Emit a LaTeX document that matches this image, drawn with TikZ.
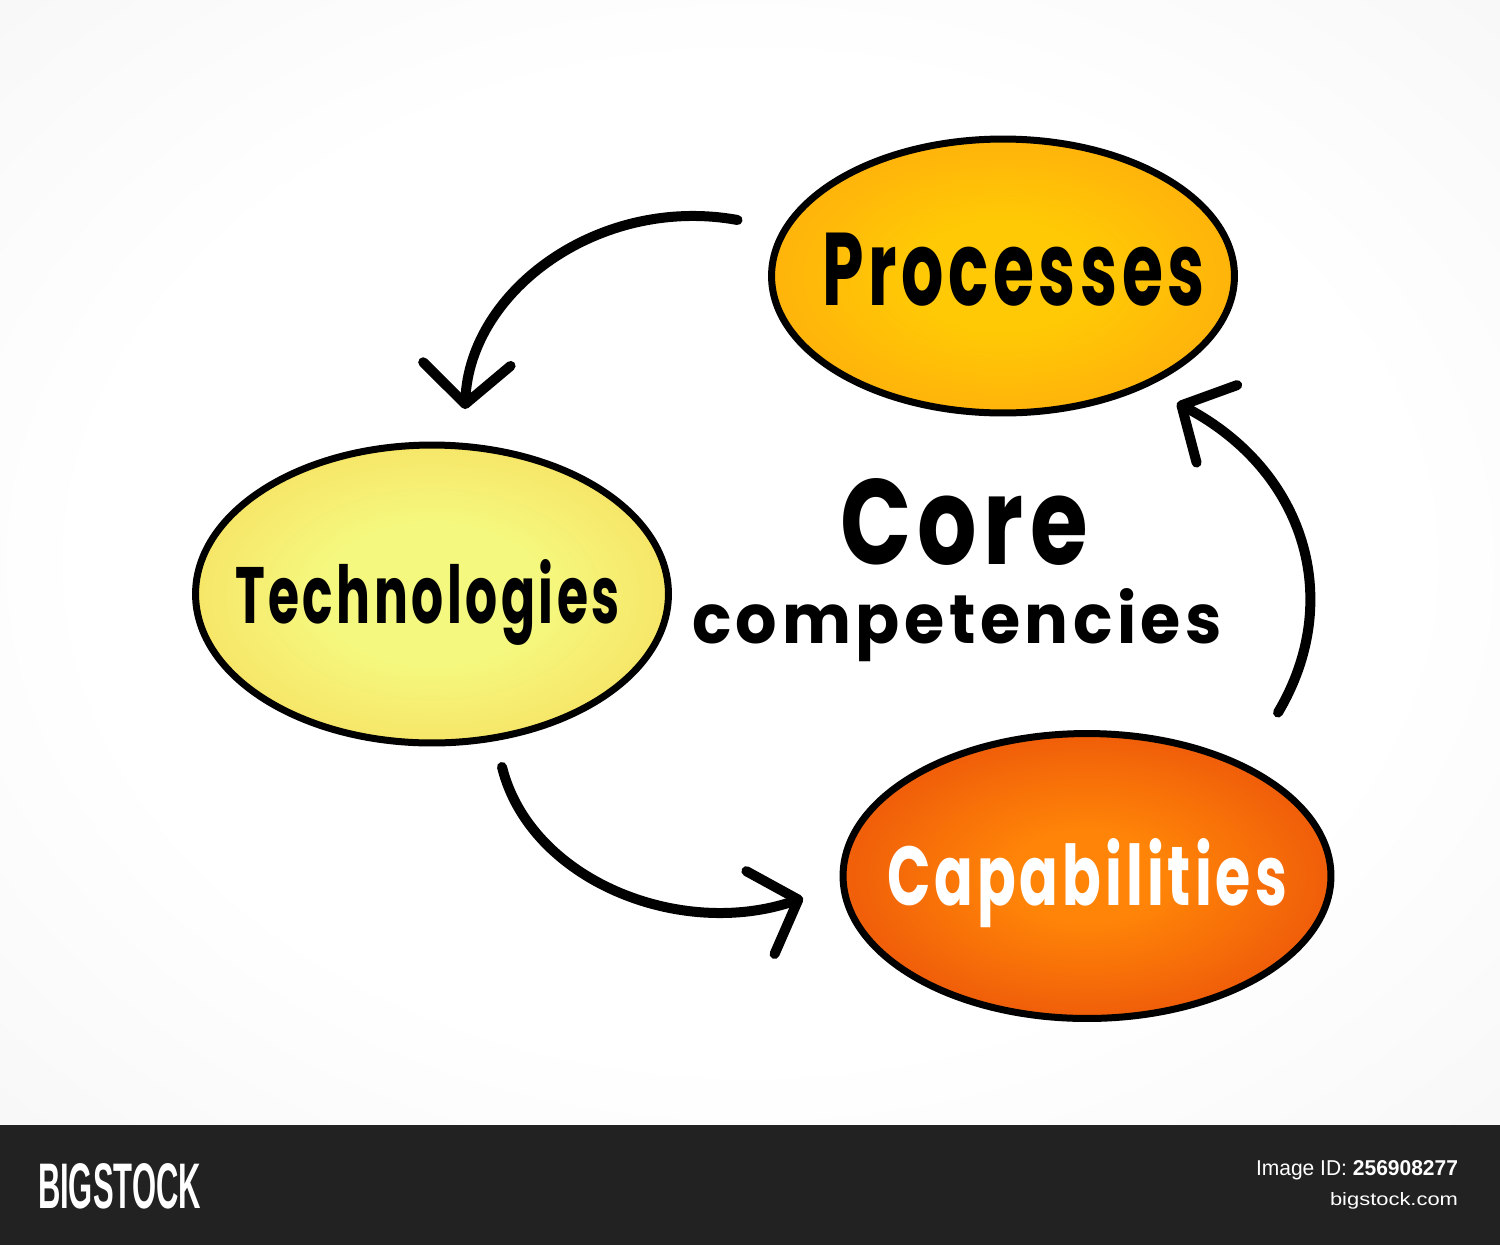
\documentclass[tikz,border=0pt]{standalone}
\usepackage{fontspec}
\usepackage{graphicx}
\setmainfont{Poppins}
\newfontfamily\bandfont{Liberation Sans}
\newfontfamily\handfont[LetterSpace=7]{Poppins}
\usetikzlibrary{shapes.geometric,arrows.meta,calc}

\definecolor{procIn}{HTML}{FFC905}
\definecolor{procOut}{HTML}{FF9412}
\definecolor{techIn}{HTML}{F5F87E}
\definecolor{techOut}{HTML}{F8C843}
\definecolor{capIn}{HTML}{FF8408}
\definecolor{capOut}{HTML}{DC2C0A}
\definecolor{bgOut}{HTML}{F0F0F0}
\definecolor{bgOut2}{HTML}{E4E4E4}
\definecolor{band}{HTML}{222222}

\pgfdeclareradialshading{procshade}{\pgfpoint{0bp}{0bp}}{color(0bp)=(procIn); color(10bp)=(procIn); color(47bp)=(procOut); color(50bp)=(procOut)}
\pgfdeclareradialshading{techshade}{\pgfpoint{0bp}{0bp}}{color(0bp)=(techIn); color(12bp)=(techIn); color(47bp)=(techOut); color(50bp)=(techOut)}
\pgfdeclareradialshading{capshade}{\pgfpoint{0bp}{0bp}}{color(0bp)=(capIn); color(8bp)=(capIn); color(47bp)=(capOut); color(50bp)=(capOut)}
\pgfdeclareradialshading{bgshade}{\pgfpoint{0bp}{0bp}}{color(0bp)=(white); color(22bp)=(white); color(50bp)=(bgOut); color(72bp)=(bgOut2)}

\begin{document}
\begin{tikzpicture}[x=0.02cm,y=-0.02cm,
  blob/.style={ellipse, draw=black, line width=0.14cm, inner sep=0pt, outer sep=0pt, shade},
  lbl/.style={inner sep=0pt, outer sep=0pt, anchor=base west},
  flow/.style={line width=0.2cm, line cap=round,
     -{Straight Barb[round, length=0.8cm, width=1.75cm]}},
  bandtxt/.style={inner sep=0pt, outer sep=0pt, text=white}]
\useasboundingbox (0,0) rectangle (1500,1245);
\shade[shading=bgshade] (0,0) rectangle (1500,1125);
\fill[band] (0,1125) rectangle (1500,1245);

% ellipses
\node[blob, shading=procshade, minimum width=9.26cm, minimum height=5.48cm] (procE) at (1003,276) {};
\node[blob, shading=techshade, minimum width=9.46cm, minimum height=5.96cm] (techE) at (432,594) {};
\node[blob, shading=capshade, minimum width=9.76cm, minimum height=5.7cm] (capE) at (1087,876) {};

% labels
\node[lbl] (procT) at (822,305) {\resizebox{7.66cm}{1.45cm}{\handfont\bfseries Processes}};
\node[lbl] (techT) at (235,623) {\resizebox{7.7cm}{1.28cm}{\handfont\bfseries Technologies}};
\node[lbl, text=white] (capT) at (887,905) {\resizebox{8.0cm}{1.34cm}{\handfont\bfseries Capabilities}};
\node[lbl] (coreT) at (840,564) {\resizebox{4.96cm}{1.72cm}{\handfont\bfseries Core}};
\node[lbl] (compT) at (692,643) {\resizebox{10.6cm}{1.1cm}{\handfont\bfseries competencies}};

% connectors
\coordinate (ptS) at ($(procE.west)+(-34,-56)$);
\coordinate (ptE) at ($(techE.north)+(33,-36)$);
\coordinate (tcS) at ($(techE.south)+(70,24)$);
\coordinate (tcE) at ($(capE.west)+(-40,22)$);
\coordinate (cpS) at ($(capE.north)+(191,-21)$);
\coordinate (cpE) at ($(procE.south)+(174,-10)$);

\draw[flow] (ptS) .. controls (600,195) and (470,290) .. (ptE);
\draw[flow] (tcS) .. controls (530,880) and (680,940) .. (tcE);
\draw[flow] (cpS) .. controls (1345,600) and (1305,470) .. (cpE);

% footer band
\node[bandtxt, anchor=base west] (logo) at (38,1208) {\resizebox{3.26cm}{0.9cm}{\bandfont\bfseries BIGSTOCK}};
\node[bandtxt, anchor=base east] (imgid) at (1458,1175) {\resizebox{4.04cm}{0.3cm}{\bandfont Image ID: \textbf{256908277}}};
\node[bandtxt, anchor=base east] (site) at (1458,1205) {\resizebox{2.56cm}{0.26cm}{\bandfont bigstock.com}};
\end{tikzpicture}
\end{document}
